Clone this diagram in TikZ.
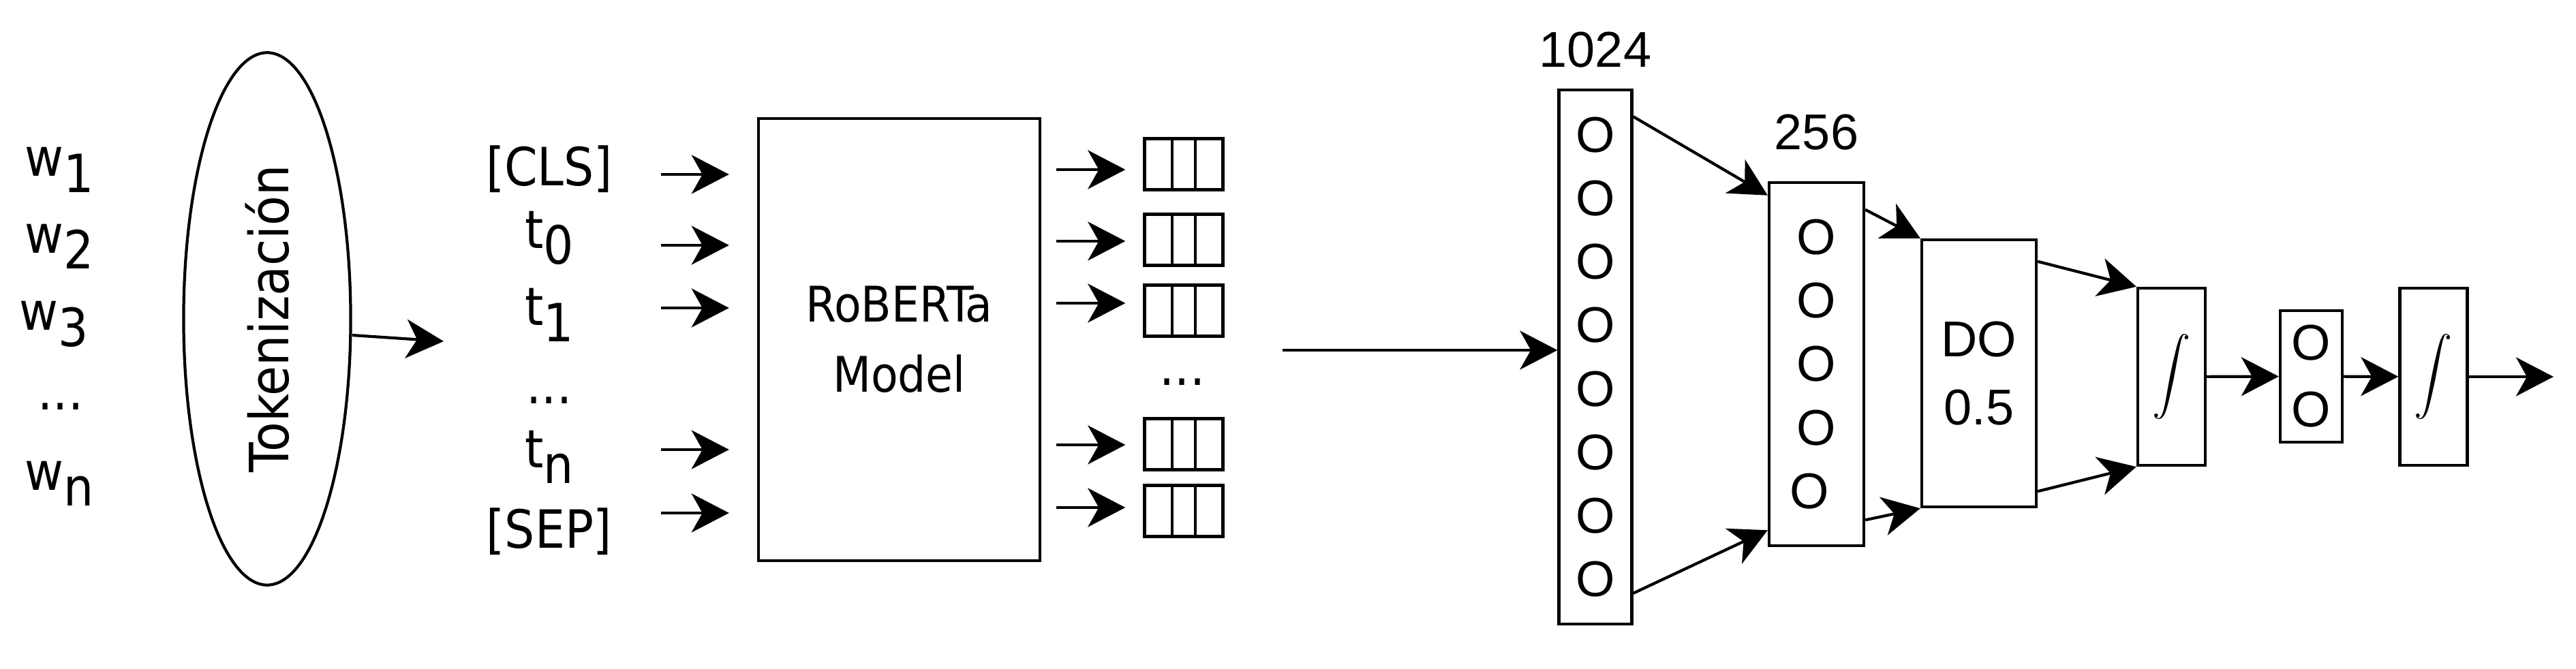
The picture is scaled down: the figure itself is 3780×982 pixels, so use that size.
\documentclass[tikz,border=0pt]{standalone}
\usepackage{amsmath}
\usepackage{fontspec}
\setmainfont{Liberation Sans}
\newfontfamily\tahoma{DejaVu Sans Condensed}
\usepackage{tikz}
\usetikzlibrary{arrows.meta,positioning,shapes.geometric,calc}
\newcommand{\lowsub}[1]{\raisebox{-0.3em}{#1}}
\newcommand{\actint}{\scalebox{1.6}{$\displaystyle\int$}}

\begin{document}
\begin{tikzpicture}
  [x=0.01cm,y=-0.01cm,line width=1.2pt,
   arr/.style={-{Stealth[length=5.5mm,width=5.7mm,inset=1.6mm]}},
   word/.style={inner sep=0,anchor=base west,font={\tahoma\fontsize{22}{26}\selectfont}},
   tok/.style={inner sep=0,anchor=base,font={\tahoma\fontsize{22}{26}\selectfont}},
   layer/.style={draw,inner sep=0,align=center,font={\fontsize{21}{26.5}\selectfont}},
   act/.style={draw,inner sep=0,minimum width=0.99cm,minimum height=2.6cm},
   lbl/.style={inner sep=0,font={\fontsize{21}{25}\selectfont}},
   vecbox/.style={draw,inner sep=0,minimum width=1.15cm,minimum height=0.75cm,
     path picture={
       \foreach \f in {0.35,0.65}
         \draw ($(path picture bounding box.north west)!\f!(path picture bounding box.north east)$)
            -- ($(path picture bounding box.south west)!\f!(path picture bounding box.south east)$);}}]
  \useasboundingbox (0,0) rectangle (3780,982);

  % words
  \node[word] (w1) at (34,259) {w\lowsub{1}};
  \node[word] (w2) at (34,371) {w\lowsub{2}};
  \node[word] (w3) at (26,485) {w\lowsub{3}};
  \node[word,anchor=base] (wdots) at (89,601) {...};
  \node[word] (wn) at (34,719) {w\lowsub{n}};

  \node[draw,ellipse,rotate=90,minimum width=7.81cm,minimum height=2.45cm,inner sep=0,
    font={\tahoma\fontsize{22.6}{26}\selectfont}] (token) at (392,468) {Tokenización\hspace{0.6cm}};
  \coordinate (tokout) at (651,501);
  \draw[arr] ([yshift=-0.24cm]token.south) -- (tokout);

  % tokens
  \node[tok] (cls) at (806,273) {[CLS]};
  \node[tok] (t0) at (806,364) {t\lowsub{0}};
  \node[tok] (t1) at (806,478) {t\lowsub{1}};
  \node[tok] (tdots) at (806,592) {...};
  \node[tok] (tn) at (806,686) {t\lowsub{n}};
  \node[tok] (sep) at (806,804) {[SEP]};

  \node[draw,inner sep=0,minimum width=4.13cm,minimum height=6.48cm,align=center,
    font={\tahoma\fontsize{20.5}{29.3}\selectfont}] (roberta) at (1319.5,498.5) {RoBERTa\\Model};

  \foreach \y [count=\i] in {256,360,452,660,753}{
    \coordinate (a\i) at (970,\y);
    \draw[arr,shorten >=0.41cm] (a\i) -- (a\i -| roberta.west);
  }

  % embeddings
  \foreach \ya/\yb [count=\i] in {249/241,354/352,445/456,653/652,745/750}{
    \node[vecbox] (v\i) at (1737,\yb) {};
    \coordinate (c\i) at (1550,\ya);
    \draw[arr,shorten >=0.26cm] (c\i) -- (c\i -| v\i.west);
  }
  \node[tok] (vdots) at (1735,565) {...};

  % classifier
  \node[layer,minimum width=1.07cm,minimum height=7.83cm] (l1024) at (2341,524) {O\\O\\O\\O\\O\\O\\O\\O};
  \node[lbl,above=0.29cm of l1024] (n1024) {1024};
  \node[layer,minimum width=1.39cm,minimum height=5.33cm] (l256) at (2665.5,534.5) {O\\O\\O\\O\\O\kern0.2cm};
  \node[lbl,above=0.43cm of l256] (n256) {256};
  \node[layer,minimum width=1.68cm,minimum height=3.92cm,font={\fontsize{21}{28.5}\selectfont}] (drop) at (2904,548) {DO\\0.5};
  \node[act] (act1) at (3186.5,553) {\actint};
  \node[layer,minimum width=0.91cm,minimum height=1.93cm,font={\fontsize{21}{27.9}\selectfont}] (out) at (3391.5,552.5) {O\\O};
  \node[act] (act2) at (3571,553) {\actint};

  \coordinate (emb) at (1882,514);
  \draw[arr] (emb) -- (emb -| l1024.west);
  \draw[arr] ([yshift=-0.41cm]l1024.north east) -- ([yshift=-0.21cm]l256.north west);
  \draw[arr] ([yshift=0.47cm]l1024.south east) -- ([yshift=0.25cm]l256.south west);
  \draw[arr] ([yshift=-0.42cm]l256.north east) -- (drop.north west);
  \draw[arr] ([yshift=0.40cm]l256.south east) -- (drop.south west);
  \draw[arr] ([yshift=-0.34cm]drop.north east) -- (act1.north west);
  \draw[arr] ([yshift=0.25cm]drop.south east) -- (act1.south west);
  \draw[arr] (act1) -- (out);
  \draw[arr] (out) -- (act2);
  \coordinate (res) at (3747,553);
  \draw[arr] (act2) -- (res);

\end{tikzpicture}
\end{document}
